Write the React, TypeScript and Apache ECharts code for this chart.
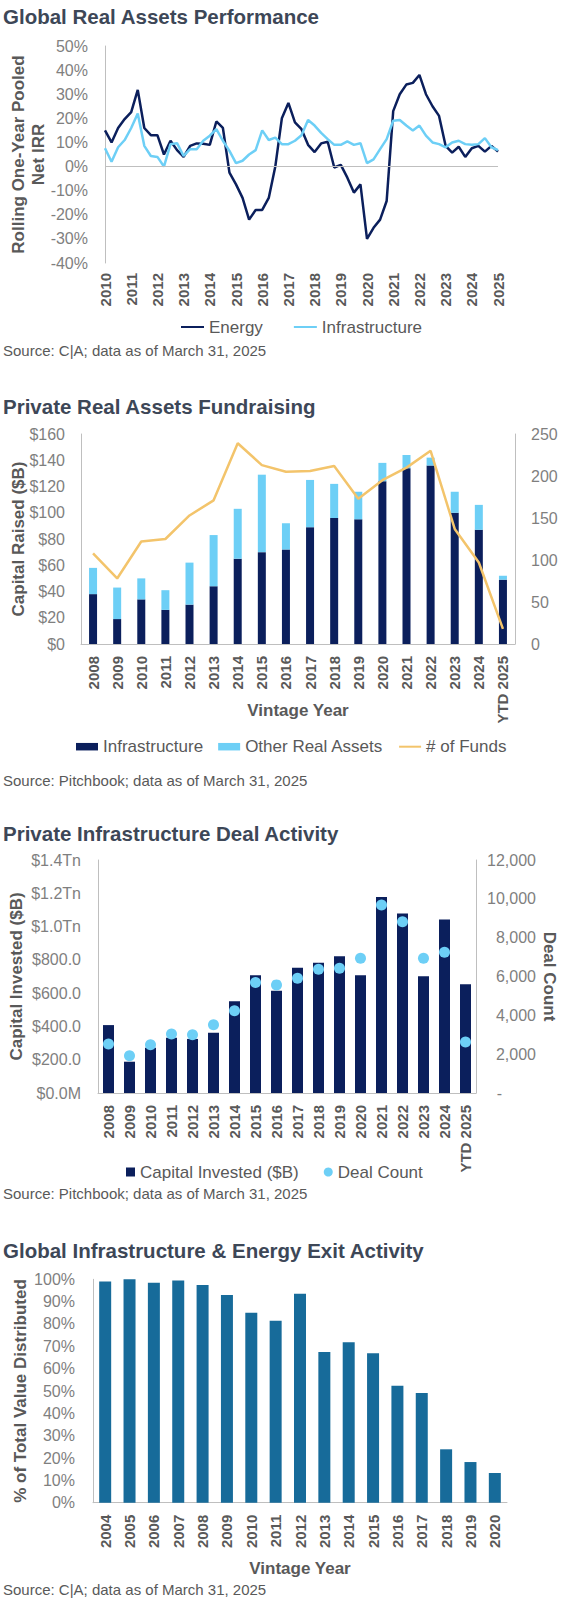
import React, { useEffect, useRef } from "react";
import * as echarts from "echarts";

const FONT = "'Liberation Sans', Arial, Helvetica, sans-serif";
const TITLE_COLOR = "#3d4757";
const TICK_COLOR = "#7f7f7f";
const NAME_COLOR = "#595959";
const AXIS_COLOR = "#bfbfbf";
const NAVY = "#0b1f5c";
const LIGHT = "#6dcff6";
const GOLD = "#f3c46b";
const STEEL = "#176b9a";

// ---------- Chart 1: Global Real Assets Performance ----------
const perfYears = [2010, 2011, 2012, 2013, 2014, 2015, 2016, 2017, 2018, 2019, 2020, 2021, 2022, 2023, 2024, 2025];
const perfQuarters: string[] = [];
perfYears.forEach((y) => {
  const qs = y === 2025 ? [1] : [1, 2, 3, 4];
  qs.forEach((q) => perfQuarters.push(`${y} Q${q}`));
});
const energyIrr = [
  15, 10, 16, 19.7, 22.6, 31.8, 16, 13, 13, 5, 10.7, 6.8, 4, 8.6, 9.6, 9.5, 9, 18.7, 16, -2.5,
  -7.4, -13, -22, -18, -18, -13, 0, 20, 26.4, 18.3, 15.5, 9, 6, 9.6, 10.3, -0.4, 0.7, -4.6, -10.8, -7.4,
  -30, -25.4, -22, -14.3, 23, 30, 34, 34.7, 38, 30, 25, 21, 8.6, 5.8, 8.2, 4, 7.6, 8.6, 6.2, 8.6, 6.2,
];
const infraIrr = [
  7.6, 2, 8, 11, 16, 22, 8.6, 4.4, 4, 0, 9.3, 9.7, 4.4, 7.2, 7.2, 10.7, 12.8, 15.5, 10.7, 6.5,
  1.4, 2.4, 5, 6.8, 15, 11, 12, 9.3, 9.3, 10.7, 13, 19.3, 17, 14, 11.4, 9, 9, 10.4, 9, 9.7,
  1.4, 3, 7.2, 11.4, 19, 19.3, 17, 15, 17, 12.8, 10, 9.3, 8, 10, 10.7, 9.3, 9, 9.3, 11.8, 8, 6.8,
];

// ---------- Chart 2: Private Real Assets Fundraising ----------
const fundYears = ["2008", "2009", "2010", "2011", "2012", "2013", "2014", "2015", "2016", "2017", "2018", "2019", "2020", "2021", "2022", "2023", "2024", "YTD 2025"];
const fundInfra = [38, 19, 34, 26, 30, 44, 65, 70, 72, 89, 96, 95, 124, 134, 136, 100, 87, 49];
const fundOther = [20, 24, 16, 15, 32, 39, 38, 59, 20, 36, 26, 21, 14, 10, 6, 16, 19, 3];
const fundCount = [108, 78, 122, 125, 153, 171, 239, 213, 205, 206, 212, 173, 195, 210, 230, 137, 97, 18];

// ---------- Chart 3: Private Infrastructure Deal Activity ----------
const dealYears = ["2008", "2009", "2010", "2011", "2012", "2013", "2014", "2015", "2016", "2017", "2018", "2019", "2020", "2021", "2022", "2023", "2024", "YTD 2025"];
const dealCapital = [408, 188, 272, 332, 325, 362, 552, 708, 614, 752, 782, 822, 708, 1178, 1078, 702, 1042, 654];
const dealCount = [2519, 1918, 2483, 3033, 2997, 3511, 4240, 5686, 5568, 5912, 6375, 6427, 6941, 9681, 8823, 6941, 7249, 2622];

// ---------- Chart 4: Global Infrastructure & Energy Exit Activity ----------
const exitYears = ["2004", "2005", "2006", "2007", "2008", "2009", "2010", "2011", "2012", "2013", "2014", "2015", "2016", "2017", "2018", "2019", "2020"];
const exitDistributed = [99, 100, 98.5, 99.5, 97.5, 93, 85, 81.5, 93.5, 67.5, 71.8, 66.9, 52.4, 49.1, 23.9, 18.2, 13.3];

const titleOpt = (text: string, centerY: number) => ({
  text,
  left: 3,
  top: centerY - 12,
  padding: 0,
  textStyle: { fontSize: 20.5, fontWeight: "bold", color: TITLE_COLOR, fontFamily: FONT, lineHeight: 24 },
});

const sourceGraphic = (text: string, centerY: number) => ({
  type: "text",
  x: 3,
  y: centerY,
  style: { text, fontSize: 15, fontFamily: FONT, fill: NAME_COLOR, verticalAlign: "middle", align: "left" },
});

const tickLabel = { color: TICK_COLOR, fontSize: 16, fontFamily: FONT };
const xLabel = { color: NAME_COLOR, fontSize: 15, fontWeight: "bold", fontFamily: FONT, rotate: 90 };
const nameStyle = { color: NAME_COLOR, fontSize: 17, fontWeight: "bold", fontFamily: FONT };
const legendText = { color: NAME_COLOR, fontSize: 17, fontFamily: FONT, lineHeight: 20 };
const hiddenMarker = { opacity: 0 };

const option1 = {
  animation: false,
  title: [titleOpt("Global Real Assets Performance", 16)],
  graphic: [sourceGraphic("Source: C|A; data as of March 31, 2025", 350)],
  grid: { left: 104, right: 68, top: 46, height: 217 },
  legend: {
    left: 180,
    top: 317,
    padding: 0,
    itemWidth: 23,
    itemHeight: 10,
    itemGap: 30,
    textStyle: legendText,
    data: [
      { name: "Energy", itemStyle: hiddenMarker },
      { name: "Infrastructure", itemStyle: hiddenMarker },
    ],
  },
  xAxis: {
    type: "category",
    data: perfQuarters,
    boundaryGap: false,
    axisLine: { show: false },
    axisTick: { show: false },
    axisLabel: { ...xLabel, interval: 3, margin: 10, formatter: (v: string) => v.slice(0, 4) },
  },
  yAxis: {
    type: "value",
    min: -40,
    max: 50,
    interval: 10,
    splitLine: { show: false },
    axisLine: { show: true, lineStyle: { color: AXIS_COLOR } },
    axisLabel: { ...tickLabel, margin: 17, formatter: "{value}%" },
    name: "Rolling One-Year Pooled\nNet IRR",
    nameLocation: "middle",
    nameGap: 57,
    nameMoveOverlap: false,
    nameTextStyle: { ...nameStyle, lineHeight: 20 },
  },
  series: [
    {
      name: "Energy",
      type: "line",
      data: energyIrr,
      symbol: "none",
      lineStyle: { color: NAVY, width: 2.5 },
      itemStyle: { color: NAVY },
      markLine: {
        silent: true,
        symbol: ["none", "none"],
        label: { show: false },
        lineStyle: { color: AXIS_COLOR, type: "solid", width: 1 },
        data: [{ yAxis: 0 }],
      },
    },
    {
      name: "Infrastructure",
      type: "line",
      data: infraIrr,
      symbol: "none",
      lineStyle: { color: LIGHT, width: 2.5 },
      itemStyle: { color: LIGHT },
    },
  ],
};

const option2 = {
  animation: false,
  title: [titleOpt("Private Real Assets Fundraising", 41.7)],
  graphic: [sourceGraphic("Source: Pitchbook; data as of March 31, 2025", 415.7)],
  grid: { left: 81, right: 51, top: 69, height: 210 },
  legend: {
    left: 76,
    top: 371.7,
    padding: 0,
    itemWidth: 22,
    itemHeight: 7.5,
    itemGap: 15,
    textStyle: legendText,
    data: [
      { name: "Infrastructure", icon: "rect" },
      { name: "Other Real Assets", icon: "rect" },
      { name: "# of Funds", itemStyle: hiddenMarker },
    ],
  },
  xAxis: {
    type: "category",
    data: fundYears,
    axisLine: { show: true, lineStyle: { color: AXIS_COLOR } },
    axisTick: { show: false },
    axisLabel: { ...xLabel, interval: 0, margin: 12 },
    name: "Vintage Year",
    nameLocation: "middle",
    nameGap: 58,
    nameMoveOverlap: false,
    nameTextStyle: nameStyle,
  },
  yAxis: [
    {
      type: "value",
      min: 0,
      max: 160,
      interval: 20,
      splitLine: { show: false },
      axisLine: { show: true, lineStyle: { color: AXIS_COLOR } },
      axisLabel: { ...tickLabel, margin: 16, formatter: "${value}" },
      name: "Capital Raised ($B)",
      nameLocation: "middle",
      nameGap: 54,
      nameMoveOverlap: false,
      nameTextStyle: nameStyle,
    },
    {
      type: "value",
      min: 0,
      max: 250,
      interval: 50,
      position: "right",
      splitLine: { show: false },
      axisLine: { show: true, lineStyle: { color: AXIS_COLOR } },
      axisLabel: { ...tickLabel, margin: 16 },
    },
  ],
  series: [
    {
      name: "Infrastructure",
      type: "bar",
      stack: "cap",
      data: fundInfra,
      barWidth: 8,
      itemStyle: { color: NAVY },
    },
    {
      name: "Other Real Assets",
      type: "bar",
      stack: "cap",
      data: fundOther,
      barWidth: 8,
      itemStyle: { color: LIGHT },
    },
    {
      name: "# of Funds",
      type: "line",
      yAxisIndex: 1,
      data: fundCount,
      symbol: "none",
      lineStyle: { color: GOLD, width: 2.5 },
      itemStyle: { color: GOLD },
    },
  ],
};

const option3 = {
  animation: false,
  title: [titleOpt("Private Infrastructure Deal Activity", 33)],
  graphic: [sourceGraphic("Source: Pitchbook; data as of March 31, 2025", 393)],
  grid: { left: 97, right: 88, top: 60, height: 233 },
  legend: {
    left: 126,
    top: 362,
    padding: 0,
    itemWidth: 9,
    itemHeight: 9,
    itemGap: 25,
    textStyle: legendText,
    data: [
      { name: "Capital Invested ($B)", icon: "rect" },
      { name: "Deal Count", icon: "circle" },
    ],
  },
  xAxis: {
    type: "category",
    data: dealYears,
    axisLine: { show: true, lineStyle: { color: AXIS_COLOR } },
    axisTick: { show: false },
    axisLabel: { ...xLabel, interval: 0, margin: 12 },
  },
  yAxis: [
    {
      type: "value",
      min: 0,
      max: 1400,
      interval: 200,
      splitLine: { show: false },
      axisLine: { show: true, lineStyle: { color: AXIS_COLOR } },
      axisLabel: {
        ...tickLabel,
        margin: 17,
        formatter: (v: number) => (v === 0 ? "$0.0M" : v >= 1000 ? `$${(v / 1000).toFixed(1)}Tn` : `$${v.toFixed(1)}`),
      },
      name: "Capital Invested ($B)",
      nameLocation: "middle",
      nameGap: 73,
      nameMoveOverlap: false,
      nameTextStyle: nameStyle,
    },
    {
      type: "value",
      min: 0,
      max: 12000,
      interval: 2000,
      position: "right",
      splitLine: { show: false },
      axisLine: { show: true, lineStyle: { color: AXIS_COLOR } },
      axisLabel: {
        ...tickLabel,
        margin: 60,
        align: "right",
        formatter: (v: number) => (v === 0 ? "{d|-}" : v.toLocaleString("en-US")),
        rich: { d: { color: TICK_COLOR, fontSize: 16, fontFamily: FONT, padding: [0, 34, 0, 0] } },
      },
      name: "Deal Count",
      nameLocation: "middle",
      nameGap: 65,
      nameRotate: -90,
      nameMoveOverlap: false,
      nameTextStyle: nameStyle,
    },
  ],
  series: [
    {
      name: "Capital Invested ($B)",
      type: "bar",
      data: dealCapital,
      barWidth: 11,
      itemStyle: { color: NAVY },
    },
    {
      name: "Deal Count",
      type: "scatter",
      yAxisIndex: 1,
      data: dealCount,
      symbol: "circle",
      symbolSize: 11,
      itemStyle: { color: LIGHT, opacity: 1 },
      z: 3,
    },
  ],
};

const option4 = {
  animation: false,
  title: [titleOpt("Global Infrastructure & Energy Exit Activity", 45)],
  graphic: [sourceGraphic("Source: C|A; data as of March 31, 2025", 384)],
  grid: { left: 93, right: 59, top: 74.3, height: 223.4 },
  xAxis: {
    type: "category",
    data: exitYears,
    axisLine: { show: true, lineStyle: { color: AXIS_COLOR } },
    axisTick: { show: false },
    axisLabel: { ...xLabel, interval: 0, margin: 12 },
    name: "Vintage Year",
    nameLocation: "middle",
    nameGap: 57,
    nameMoveOverlap: false,
    nameTextStyle: nameStyle,
  },
  yAxis: {
    type: "value",
    min: 0,
    max: 100,
    interval: 10,
    splitLine: { show: false },
    axisLine: { show: true, lineStyle: { color: AXIS_COLOR } },
    axisLabel: { ...tickLabel, margin: 18, formatter: "{value}%" },
    name: "% of Total Value Distributed",
    nameLocation: "middle",
    nameGap: 64,
    nameMoveOverlap: false,
    nameTextStyle: nameStyle,
  },
  series: [
    {
      name: "% of Total Value Distributed",
      type: "bar",
      data: exitDistributed,
      barWidth: 12,
      itemStyle: { color: STEEL },
    },
  ],
};

function EChart({ option, top, height }: { option: any; top: number; height: number }) {
  const ref = useRef<HTMLDivElement>(null);
  useEffect(() => {
    if (!ref.current) return;
    const chart = echarts.init(ref.current, undefined, { renderer: "svg" });
    chart.setOption(option);
    return () => chart.dispose();
  }, [option]);
  return <div ref={ref} style={{ position: "absolute", left: 0, top, width: 566, height }} />;
}

export default function App() {
  return (
    <div style={{ position: "absolute", left: 0, top: 0, width: 566, height: 1600, background: "#ffffff", overflow: "hidden" }}>
      <EChart option={option1} top={0} height={365} />
      <EChart option={option2} top={365} height={435} />
      <EChart option={option3} top={800} height={405} />
      <EChart option={option4} top={1205} height={395} />
    </div>
  );
}
